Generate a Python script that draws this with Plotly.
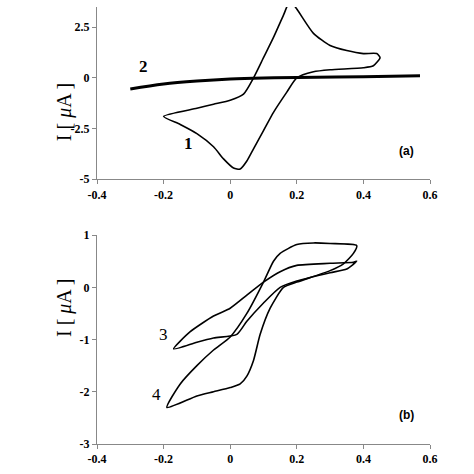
import plotly.graph_objects as go

c1_x = [-0.2,-0.1,-0.05,0,0.04,0.07,0.1,0.13,0.16,0.18,0.2,0.25,0.3,0.35,0.4,0.44,0.45,0.43,0.4,0.3,0.25,0.2,0.17,0.13,0.1,0.07,0.05,0.03,0.01,-0.02,-0.05,-0.1,-0.15,-0.2]
c1_y = [-1.9,-1.5,-1.3,-1.1,-0.8,0,1.0,2.0,3.1,3.8,3.4,2.2,1.6,1.35,1.2,1.2,1.0,0.6,0.5,0.4,0.3,0.0,-0.7,-1.7,-2.6,-3.5,-4.1,-4.5,-4.45,-4.0,-3.4,-2.75,-2.3,-1.9]
c2_x = [-0.3,-0.2,-0.1,0,0.1,0.2,0.4,0.57]
c2_y = [-0.55,-0.3,-0.15,-0.05,0.0,0.02,0.06,0.1]
c3_x = [-0.17,-0.12,-0.05,0,0.05,0.1,0.15,0.2,0.3,0.37,0.38,0.35,0.3,0.2,0.15,0.1,0.05,0.02,-0.05,-0.1,-0.17]
c3_y = [-1.18,-0.85,-0.55,-0.4,-0.15,0.1,0.3,0.42,0.46,0.48,0.5,0.35,0.28,0.12,0.0,-0.3,-0.65,-0.9,-0.97,-1.05,-1.18]
c4_x = [-0.19,-0.15,-0.1,-0.05,0,0.05,0.1,0.13,0.15,0.2,0.25,0.3,0.38,0.37,0.34,0.3,0.2,0.16,0.12,0.09,0.07,0.05,0.03,0,-0.05,-0.1,-0.19]
c4_y = [-2.3,-1.85,-1.5,-1.2,-0.95,-0.5,0.1,0.5,0.65,0.82,0.85,0.84,0.8,0.65,0.45,0.32,0.1,0.0,-0.4,-0.9,-1.4,-1.7,-1.85,-1.92,-2.0,-2.08,-2.3]

x_ticks = [-0.4,-0.2,0,0.2,0.4,0.6]
x_labels = ["-0.4","-0.2","0","0.2","0.4","0.6"]
ya_ticks = [-5,-2.5,0,2.5]
ya_labels = ["-5","-2.5","0","2.5"]
yb_ticks = [-3,-2,-1,0,1]

fig = go.Figure()
fig.add_trace(go.Scatter(x=c1_x, y=c1_y, mode="lines", line=dict(color="black", width=1.6, shape="spline", smoothing=0.6), xaxis="x", yaxis="y", cliponaxis=True))
fig.add_trace(go.Scatter(x=c2_x, y=c2_y, mode="lines", line=dict(color="black", width=3, shape="spline"), xaxis="x", yaxis="y"))
fig.add_trace(go.Scatter(x=c3_x, y=c3_y, mode="lines", line=dict(color="black", width=1.6, shape="spline", smoothing=0.6), xaxis="x2", yaxis="y2"))
fig.add_trace(go.Scatter(x=c4_x, y=c4_y, mode="lines", line=dict(color="black", width=1.6, shape="spline", smoothing=0.6), xaxis="x2", yaxis="y2"))

font = dict(family="Liberation Serif", size=12, color="black")
ax = dict(showgrid=False, zeroline=False, showline=True, linecolor="#888", ticks="outside", ticklen=4, tickcolor="#888", tickfont=font)
fig.update_layout(
    width=474, height=474, margin=dict(l=97, r=44, t=0, b=30),
    paper_bgcolor="white", plot_bgcolor="white", showlegend=False,
    font=dict(family="Liberation Serif"),
    xaxis=dict(ax, domain=[0,1], range=[-0.4,0.6], tickvals=x_ticks, ticktext=["<b>%s</b>" % t for t in x_labels], anchor="y"),
    yaxis=dict(ax, domain=[0.606,1], range=[-5,3.5], tickvals=ya_ticks, ticktext=["<b>%s</b>" % t for t in ya_labels], anchor="x"),
    xaxis2=dict(ax, domain=[0,1], range=[-0.4,0.6], tickvals=x_ticks, ticktext=["<b>%s</b>" % t for t in x_labels], anchor="y2"),
    yaxis2=dict(ax, domain=[0,0.478], range=[-3,1], tickvals=yb_ticks, ticktext=["<b>%d</b>" % t for t in yb_ticks], anchor="x2"),
)
lab = dict(family="Liberation Serif", size=17, color="black")
fig.add_annotation(x=-0.26, y=0.55, text="<b>2</b>", xref="x", yref="y", showarrow=False, font=lab)
fig.add_annotation(x=-0.125, y=-3.25, text="<b>1</b>", xref="x", yref="y", showarrow=False, font=lab)
fig.add_annotation(x=0.53, y=-3.6, text="<b>(a)</b>", xref="x", yref="y", showarrow=False, font=dict(family="Liberation Sans", size=12, color="black"))
fig.add_annotation(x=-0.2, y=-0.9, text="3", xref="x2", yref="y2", showarrow=False, font=lab)
fig.add_annotation(x=-0.22, y=-2.05, text="4", xref="x2", yref="y2", showarrow=False, font=lab)
fig.add_annotation(x=0.53, y=-2.45, text="<b>(b)</b>", xref="x2", yref="y2", showarrow=False, font=dict(family="Liberation Sans", size=12, color="black"))
ttl = dict(family="Liberation Serif", size=20, color="black")
fig.add_annotation(xref="paper", x=-0.14, yref="paper", y=0.83, text="I [ <i>μ</i>A ]", showarrow=False, textangle=-90, font=ttl)
fig.add_annotation(xref="paper", x=-0.14, yref="paper", y=0.24, text="I [ <i>μ</i>A ]", showarrow=False, textangle=-90, font=ttl)
fig.write_html("out.html", config={"displayModeBar": False}, post_script="document.body.style.margin='0';")
